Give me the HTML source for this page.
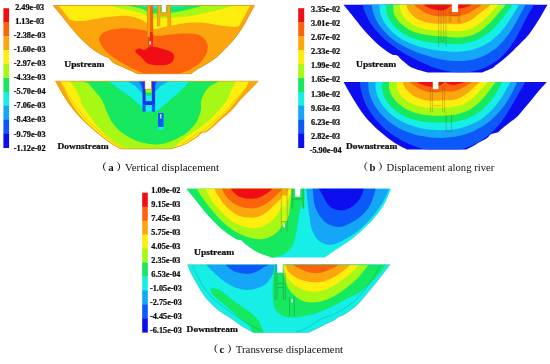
<!DOCTYPE html>
<html lang="en">
<head>
<meta charset="utf-8">
<title>Displacement contours</title>
<style>
html,body{margin:0;padding:0;background:#fff;}
body{width:550px;height:364px;overflow:hidden;}
svg{display:block;}
text{font-family:"Liberation Serif","Noto Serif CJK SC",serif;fill:#111;}
.lab{font-weight:bold;stroke:#111;stroke-width:0.25px;}
.lbl{font-weight:bold;stroke:#111;stroke-width:0.25px;}
.cap{font-weight:normal;}
.b{font-weight:bold;}
</style>
</head>
<body>
<svg width="550" height="364" viewBox="0 0 550 364">
<defs>
<filter id="soft" x="-2%" y="-2%" width="104%" height="104%"><feGaussianBlur stdDeviation="0.45"/></filter>
<clipPath id="cua"><path d="M53.2,5.5C54.5,7 58.4,11.6 60.9,14.7C63.4,17.8 65.5,20.5 68.2,23.8C70.9,27.1 74.3,31.4 77.3,34.7C80.3,38 83.4,41.1 86.4,43.8C89.4,46.5 92.6,49.1 95.5,51.1C98.4,53.1 101.8,54.8 104,55.9C106.2,57 107.1,56.6 108.6,57.7C110.1,58.8 110.9,61 113.2,62.5C115.5,64 119.3,65.4 122.3,66.8C125.3,68.2 128.8,69.8 131.4,70.9C134,72.1 136.6,73.2 137.7,73.7L191,73.7C192.2,72.8 195.5,70.3 198.2,68.6C200.9,66.9 204.3,65.3 207.3,63.4C210.3,61.5 213.7,59.4 216.4,57.2C219.1,55 220.9,52.9 223.6,50.2C226.3,47.5 229.6,44.4 232.4,41.1C235.2,37.8 238.3,33.5 240.6,30.2C242.9,26.9 244.3,24.1 246,21.1C247.7,18.1 249.4,14.6 250.8,12C252.2,9.4 254,6.6 254.6,5.5L166.4,5.5 L166.4,12.8 L161.3,12.8 L161.3,5.5 Z"/></clipPath>
<clipPath id="cda"><path d="M55.5,81.2C56,82 57.4,84.5 58.2,86C59,87.5 59.5,88.2 60.5,90C61.5,91.8 62.6,93.9 64.5,96.9C66.4,99.9 69.2,104.2 72,107.8C74.8,111.4 78.3,115.4 81.5,118.7C84.7,122 87.8,124.8 91.3,127.8C94.8,130.8 99,134.3 102.3,136.9C105.6,139.5 108.7,141.6 111.3,143.4C113.9,145.2 116.3,146.6 118,147.5C119.7,148.4 120.8,148.7 121.3,148.9L171.2,148.9C173.6,148.1 182.2,145.4 185.5,144C188.8,142.6 188.9,142 191,140.7C193.1,139.4 196.4,137.5 198.2,136.2C200,134.8 200.6,133.3 201.8,132.6C203,131.9 204.3,132.7 205.5,132.2C206.7,131.7 207.5,131 209,129.8C210.5,128.7 212.1,127.4 214.5,125.3C216.9,123.2 220.6,119.8 223.6,117.1C226.6,114.4 229.7,112.1 232.7,108.9C235.7,105.7 238.8,101.3 241.8,98C244.8,94.7 248.2,91.7 250.9,88.9C253.6,86.1 257,82.5 258.2,81.2L151.4,81.2 L151.4,89.2 L145,89.2 L145,81.2 Z"/></clipPath>
<clipPath id="cub"><path d="M343.6,4.7C344.8,6.2 348.5,10.8 350.9,13.8C353.3,16.8 355.5,19.6 358.2,22.9C360.9,26.2 364.3,30.5 367.3,33.8C370.3,37.1 373.4,40.2 376.4,42.9C379.4,45.6 382.8,48.2 385.5,50.2C388.2,52.2 390.7,53.8 392.7,54.7C394.7,55.6 395.9,54.8 397.3,55.6C398.7,56.4 399.6,58.1 401,59.3C402.4,60.5 403.6,61.5 405.5,63C407.4,64.5 408.9,66.4 412.7,68C416.4,69.6 425.4,71.8 428,72.6L481.8,72.6C483.6,71.8 490.4,69.2 492.7,68C495,66.8 493.5,67.2 495.5,65.6C497.5,64 501.5,61 504.5,58.4C507.5,55.8 510.6,53.1 513.6,50.2C516.6,47.3 520,44 522.7,41.1C525.4,38.2 527.6,36.1 530,32.9C532.4,29.7 535.2,25.3 537.3,22C539.4,18.7 541,15.8 542.7,12.9C544.4,10 546.7,6.1 547.5,4.7L458.2,4.7 L458.2,12 L451.8,12 L451.8,4.7 Z"/></clipPath>
<clipPath id="cdb"><path d="M343.6,82C344.7,84 347.9,89.9 350.2,93.8C352.5,97.7 354.9,101.7 357.3,105.4C359.7,109.1 362.3,112.9 364.5,115.8C366.7,118.7 368.3,120.3 370.5,122.6C372.7,124.9 374.8,127.2 377.5,129.6C380.2,132 383.2,134.4 386.5,136.9C389.8,139.4 394.1,142.4 397.5,144.5C400.9,146.6 405.2,148.6 406.8,149.4L466.4,149.4C467.6,148.8 471.5,146.9 473.6,145.8C475.7,144.7 476.9,143.8 479,142.6C481.1,141.4 484.4,140 486.4,138.6C488.4,137.2 489.5,135.2 491,134.3C492.5,133.4 494.2,133.5 495.5,133C496.8,132.5 497.5,132.5 499,131.4C500.5,130.3 502.7,128.1 504.5,126.6C506.3,125.1 507.9,123.9 510,122.3C512,120.7 514.4,119.3 516.8,117C519.2,114.7 521.7,111.4 524.2,108.4C526.7,105.4 529.4,102.3 532,99.2C534.6,96.1 537.5,92.5 540,89.6C542.5,86.7 545.7,83.3 546.8,82L438.8,82 L438.8,89.2 L432.5,89.2 L432.5,82 Z"/></clipPath>
<clipPath id="cuc"><path d="M186.6,188.7C187.8,190.2 191.5,194.8 193.9,197.8C196.3,200.8 198.5,203.6 201.2,206.9C203.9,210.2 207.3,214.5 210.3,217.8C213.3,221.1 216.4,224.2 219.4,226.9C222.4,229.6 225.5,232.1 228.5,234.2C231.5,236.3 235.4,238.6 237.5,239.6C239.6,240.6 239.8,239.4 241.2,240.2C242.6,241 243.9,242.8 245.7,244.2C247.5,245.6 250,247.4 252,248.7C254,250 254.2,250.5 257.5,252C260.8,253.5 269.6,256.7 272,257.6L324.5,257.6C326.2,256.4 331.4,252.6 335,250.2C338.6,247.8 342.5,245.7 346,243.2C349.5,240.7 353,238.1 356.2,235.4C359.4,232.7 362.2,230.1 365.2,227.2C368.2,224.3 371.5,221.3 374.3,218C377.1,214.7 380.1,210.8 382.2,207.6C384.3,204.3 385.5,201.7 387,198.5C388.5,195.3 390.3,190.3 391,188.7L300.5,188.7 L300.5,196.8 L294.8,196.8 L294.8,188.7 Z"/></clipPath>
<clipPath id="cdc"><path d="M187.7,264.7C188.2,266.1 189.6,270 191,272.9C192.4,275.8 194.1,278.7 196,282C197.9,285.3 200.1,289.6 202.4,292.9C204.7,296.2 206.8,299 209.6,302C212.4,305 216.1,308.4 219.5,311C222.9,313.6 226.7,315.4 230.3,317.8C233.9,320.2 238.2,323.6 241,325.5C243.8,327.4 244.9,327.8 247,329C249.1,330.2 252.5,332 253.6,332.6L308.4,332.6C310,331.8 315.6,329.3 318.2,328C320.8,326.7 321.4,326 324,324.7C326.6,323.4 331.6,321.5 334,320.2C336.4,318.9 337,317.7 338.3,316.9C339.6,316.1 340.4,316.4 342,315.6C343.6,314.8 345.4,313.8 348,312C350.6,310.2 354.4,307.4 357.3,304.7C360.2,302 362.6,298.8 365.3,295.6C368,292.4 370.9,289.1 373.7,285.6C376.5,282.1 379.5,278.2 382.2,274.7C384.9,271.2 388.7,266.4 390,264.7L283,264.7 L283,273 L277,273 L277,264.7 Z"/></clipPath>
</defs>
<rect x="0" y="0" width="550" height="364" fill="#ffffff"/>
<g filter="url(#soft)">
<g clip-path="url(#cua)">
<rect x="40" y="0" width="230" height="80" fill="#fca60e"/>
<path d="M50,12C51.2,12.4 54.7,13.7 57,14.5C59.3,15.3 61.1,15.9 63.6,16.8C66.1,17.8 68.6,19.5 71.8,20.2C75,20.9 79.1,21.2 82.7,21.1C86.3,21 90,19.9 93.6,19.3C97.2,18.7 99.7,18.1 104.5,17.5C109.3,16.9 117.9,15.9 122.7,15.8C127.5,15.7 130,16.1 133.6,17C137.2,17.9 141.9,20.1 144.5,21.5C147.1,22.9 147.6,24.4 149,25.6C150.4,26.9 150.6,28.7 153,29C155.4,29.3 160.7,27.8 163.7,27.2C166.7,26.6 167.1,26.3 171,25.6C174.9,24.9 181.6,23.3 187.3,22.9C193.1,22.4 200.1,22.4 205.5,22.9C210.9,23.3 215.5,25 220,25.6C224.5,26.2 229.4,26.7 232.7,26.8C236,26.9 238.2,26.6 240,26C241.8,25.4 242.4,25 243.6,23.3C244.8,21.6 245.8,19.2 247,16C248.2,12.8 249.9,6 250.5,4L250.5,0 L50,0 Z" fill="#fdee10"/>
<path d="M107,4C108,4.4 110.4,5.5 113,6.3C115.6,7.1 119.3,8.1 122.7,8.9C126.1,9.7 130,10.1 133.6,11.1C137.2,12.1 141.9,13.6 144.5,14.7C147.1,15.8 147.2,16.9 149,17.5C150.8,18.1 151.5,18.4 155,18.5C158.5,18.6 164.2,18.4 170,18C175.8,17.6 185,16.7 190,16C195,15.3 196.3,14.8 200,14C203.7,13.2 207.7,12.5 212,11.5C216.3,10.5 221.3,9.2 226,8C230.7,6.8 237.7,4.7 240,4L240,0 L107,0 Z" fill="#a8f812"/>
<path d="M124,4C125.3,4.4 129.2,5.8 132,6.5C134.8,7.2 138.1,7.5 140.9,8.4C143.7,9.3 146.7,11.2 149,12C151.3,12.8 151.5,13.3 155,13.5C158.5,13.7 165,13.5 170,13C175,12.5 180.5,11.2 185,10.3C189.5,9.4 193.3,8.3 197,7.3C200.7,6.2 205.3,4.5 207,4L207,0 L124,0 Z" fill="#12e85e"/>
<path d="M136,4C136.8,4.4 139.3,5.7 141,6.2C142.7,6.8 144,6.9 146,7.3C148,7.7 150.7,8.2 153,8.3C155.3,8.4 156.8,8.2 160,8C163.2,7.8 168.2,7.5 172,7.3C175.8,7.1 179.7,7.3 183,6.8C186.3,6.2 190.5,4.5 192,4L192,0 L136,0 Z" fill="#12eee6"/>
<path d="M99,39.5C99,38.2 99.6,36.8 100.5,35.5C101.4,34.2 102.3,33 104.5,32C106.7,31 109.9,29.9 113.6,29.3C117.2,28.7 121.8,28.1 126.4,28.2C131,28.3 137.4,29.2 141,29.8C144.6,30.4 146,30.6 148,31.5C150,32.4 151,34.3 153,35C155,35.7 155.8,36 160,35.8C164.2,35.6 172.8,34.1 178.2,33.8C183.6,33.5 188.8,33.3 192.7,33.8C196.6,34.2 199.4,34.8 201.8,36.5C204.2,38.2 206.4,41.2 207.3,43.8C208.2,46.4 207.8,49.2 207,52C206.2,54.8 204.3,58 202.3,60.5C200.3,63 197.7,65.2 195,67C192.3,68.8 189.8,69.9 186,71.2C182.2,72.5 178,74.3 172,75C166,75.7 155.2,76 150,75.5C144.8,75 143.6,73.5 140.5,72.3C137.4,71 134.4,69.5 131.4,68C128.4,66.5 125.3,64.8 122.3,63C119.3,61.2 115.8,59.3 113.2,57.5C110.6,55.7 108.5,54 106.8,52.3C105.1,50.6 104.1,49 103,47.5C101.9,46 101,44.3 100.3,43C99.6,41.7 99,40.8 99,39.5Z" fill="#fd640a"/>
<path d="M135.3,51C135.6,50.1 137.5,48.6 139,48.4C140.5,48.2 143,50.1 144.5,50C146,49.9 146.8,48.1 148,47.5C149.2,46.9 150,46.5 152,46.6C154,46.7 157.4,47.6 160,48.2C162.6,48.8 165.2,49.4 167.3,50.2C169.4,51 171.6,51.8 172.7,53C173.8,54.2 174.3,55.8 174,57.5C173.7,59.2 172.7,61.7 171,63C169.3,64.3 166.4,64.9 163.6,65.2C160.8,65.5 156.7,65.3 154,65C151.3,64.7 149.1,64.1 147.5,63.4C145.9,62.7 145.6,62.1 144.5,61C143.4,59.9 142.2,58 141,56.8C139.8,55.6 138.2,55 137.3,54C136.4,53 135,51.9 135.3,51Z" fill="#f01012"/>
<rect x="147.2" y="5" width="5.8" height="42" fill="#fca60e"/>
<rect x="149.9" y="5" width="3.1" height="28" fill="#fd640a"/>
<rect x="149.9" y="32" width="3.1" height="15" fill="#f22412"/>
<rect x="147.2" y="37" width="2.7" height="10" fill="#f8440e"/>
<rect x="147.2" y="5" width="0.6" height="42" fill="#cf7f1c"/>
<rect x="152.5" y="5" width="0.6" height="30" fill="#d8661a"/>
<rect x="149.3" y="41.3" width="1.8" height="3.2" fill="#f4f1e6"/>
<rect x="157.3" y="5" width="3" height="21.2" fill="#fca60e"/>
<rect x="167.3" y="5" width="3.3" height="21.2" fill="#fca60e"/>
<rect x="160" y="13.8" width="8" height="2.6" fill="#fca60e"/>
<rect x="157.2" y="5" width="0.5" height="21.2" fill="#c9821c"/>
<rect x="170.2" y="5" width="0.5" height="21.2" fill="#c9821c"/>
<path d="M58.6,5.5C59.8,7 63.7,11.6 66,14.7C68.4,17.8 70.2,20.5 72.6,23.8C75,27.1 77.8,31.4 80.5,34.7C83.2,38 86.1,41.1 89,43.8C91.9,46.5 95.1,49.1 98,51.1C100.9,53.1 104.3,54.8 106.5,55.9C108.7,57 109.6,56.6 111.1,57.7C112.6,58.8 113.4,61 115.7,62.5C118,64 121.8,65.4 124.8,66.8C127.8,68.2 131.3,69.8 133.9,70.9C136.5,72.1 139.1,73.2 140.2,73.7L134.7,73.7 L128.4,70.9 L119.3,66.8 L110.2,62.5 L105.6,57.7 L101,55.9 L92.5,51.1 L83.4,43.8 L74.3,34.7 L65.2,23.8 L57.9,14.7 L50.2,5.5Z" fill="#fca60e"/>
<path d="M191,73.7C192.2,72.8 195.5,70.3 198.2,68.6C200.9,66.9 204.3,65.3 207.3,63.4C210.3,61.5 213.7,59.4 216.4,57.2C219.1,55 220.9,52.9 223.6,50.2C226.3,47.5 229.6,44.4 232.4,41.1C235.2,37.8 238.3,33.5 240.6,30.2C242.9,26.9 244.3,24.1 246,21.1C247.7,18.1 249.4,14.6 250.8,12C252.2,9.4 254,6.6 254.6,5.5" fill="none" stroke="#fca60e" stroke-width="7.4"/>
</g>
<path d="M53.2,5.5C54.5,7 58.4,11.6 60.9,14.7C63.4,17.8 65.5,20.5 68.2,23.8C70.9,27.1 74.3,31.4 77.3,34.7C80.3,38 83.4,41.1 86.4,43.8C89.4,46.5 92.6,49.1 95.5,51.1C98.4,53.1 101.8,54.8 104,55.9C106.2,57 107.1,56.6 108.6,57.7C110.1,58.8 110.9,61 113.2,62.5C115.5,64 119.3,65.4 122.3,66.8C125.3,68.2 128.8,69.8 131.4,70.9C134,72.1 136.6,73.2 137.7,73.7L191,73.7C192.2,72.8 195.5,70.3 198.2,68.6C200.9,66.9 204.3,65.3 207.3,63.4C210.3,61.5 213.7,59.4 216.4,57.2C219.1,55 220.9,52.9 223.6,50.2C226.3,47.5 229.6,44.4 232.4,41.1C235.2,37.8 238.3,33.5 240.6,30.2C242.9,26.9 244.3,24.1 246,21.1C247.7,18.1 249.4,14.6 250.8,12C252.2,9.4 254,6.6 254.6,5.5L166.4,5.5 L166.4,12.8 L161.3,12.8 L161.3,5.5 Z" fill="none" stroke="#d88c1c" stroke-width="0.7"/>
<g clip-path="url(#cda)">
<rect x="40" y="75" width="230" height="80" fill="#fdee10"/>
<path d="M71.5,79C67.3,82 73.6,84.8 75,88C76.4,91.2 78.9,95.3 80,98C81.1,100.7 80.5,101.6 81.8,104.2C83.1,106.8 85.9,110.5 88,113.5C90.1,116.5 92,119.3 94.5,122.4C97,125.5 100,129 103,132C106,135 109.7,138.2 112.7,140.5C115.7,142.8 118.1,144.1 121,145.6C123.9,147.1 125.2,148.6 130,149.5C134.8,150.4 143.3,151 150,151C156.7,151 165.3,150.8 170,149.5C174.7,148.2 175.9,145.2 178.2,143.4C180.5,141.7 181.5,140.7 183.6,139C185.7,137.3 188.6,135.2 191,133.5C193.4,131.8 195.8,130.7 198.2,129C200.6,127.3 203.1,125.5 205.5,123.5C207.9,121.5 210.3,119.5 212.7,117.1C215.1,114.7 217.6,111.8 220,108.9C222.4,106 225.5,102.8 227.3,99.8C229.1,96.8 229.9,94.2 231,90.7C232.1,87.2 238.8,82.5 233.6,79C228.4,75.5 222.3,71.5 200,70C177.7,68.5 121.4,68.5 100,70C78.6,71.5 75.7,76 71.5,79Z" fill="#a8f812"/>
<path d="M84.5,79C79.3,81.7 87.4,82.2 89,84C90.6,85.8 92,87.6 94,90C96,92.4 99.3,96.1 101,98.5C102.7,100.9 103.1,102.5 104,104.5C104.9,106.5 105.4,108.7 106.2,110.5C107,112.3 107.7,113.7 108.6,115.5C109.5,117.3 110.2,119.4 111.6,121.5C112.9,123.6 114.6,125.8 116.7,127.9C118.8,130 121.4,132.3 124.4,134.3C127.4,136.3 130.7,138.4 134.5,140C138.3,141.6 143.7,142.9 147.3,143.6C150.9,144.3 153.1,144.5 156,144.4C158.9,144.3 161.5,144.2 165,143.2C168.5,142.2 173.5,140.3 177.2,138.5C180.9,136.7 183.9,135.1 187,132.6C190.1,130.1 193.5,126.2 195.5,123.5C197.5,120.8 198.1,118.6 199,116.2C199.9,113.8 200.7,111.3 201,108.9C201.3,106.5 200.6,104 201,101.6C201.4,99.2 202.3,96.8 203.6,94.4C204.9,92 206.6,89.6 209,87C211.4,84.4 221.4,82.2 218.2,79C215,75.8 206.4,69.8 190,68C173.6,66.2 137.6,66.2 120,68C102.4,69.8 89.7,76.3 84.5,79Z" fill="#12e85e"/>
<path d="M105,79 L113,84.5 L120,89.8 L130.5,97 L141,106.5 L144.5,111 L157,111 L168,102 L176.5,94.5 L184.5,87 L192,79Z" fill="#12eee6"/>
<path d="M124,79 L135.5,86 L142.7,93.5 L155.5,91.5 L160,86.2 L172,79Z" fill="#12a6f8"/>
<path d="M136,79 L140,83 L143,89 L154.5,86.5 L158,79Z" fill="#1058f8"/>
<rect x="145" y="89.1" width="6.6" height="4" fill="#a8f812"/>
<rect x="145" y="92.6" width="6.6" height="3.5" fill="#12e85e"/>
<rect x="145" y="95.6" width="6.6" height="16" fill="#12eee6"/>
<rect x="142.5" y="81" width="3.1" height="23" fill="#1a35e0"/>
<rect x="142.5" y="104" width="3.1" height="7.6" fill="#1058f8"/>
<rect x="151.9" y="81" width="3.2" height="23" fill="#1a35e0"/>
<rect x="151.9" y="104" width="3.2" height="7.6" fill="#1058f8"/>
<rect x="145" y="101.2" width="7.5" height="3.8" fill="#1a35e0"/>
<rect x="158" y="113" width="5.5" height="14.3" fill="#1058f8"/>
<rect x="158" y="127" width="5.5" height="2.8" fill="#12eee6"/>
<rect x="160.1" y="114" width="1.4" height="4.5" fill="#bfe8f0"/>
<path d="M60.7,81.2C61.1,82 62.2,84.5 62.9,86C63.6,87.5 64,88.2 64.9,90C65.7,91.8 66.6,93.9 68.2,96.9C69.8,99.9 72.1,104.2 74.6,107.8C77.1,111.4 80.2,115.4 83.1,118.7C86.1,122 89.1,124.8 92.4,127.8C95.8,130.8 99.9,134.3 103.2,136.9C106.5,139.5 109.6,141.6 112.2,143.4C114.8,145.2 117.2,146.6 118.8,147.5C120.5,148.4 121.6,148.7 122.1,148.9L118.3,148.9 L115,147.5 L108.3,143.4 L99.3,136.9 L88.3,127.8 L78.5,118.7 L69,107.8 L61.5,96.9 L57.5,90 L55.2,86 L52.5,81.2Z" fill="#fca60e"/>
<path d="M248.8,81.2C248.2,82.5 247.2,86.1 245.4,88.9C243.6,91.7 240.6,94.7 238,98C235.4,101.3 232.3,105.7 229.5,108.9C226.6,112.1 223.6,114.4 220.8,117.1C218,119.8 214.8,123.2 212.6,125.3C210.4,127.4 208.9,128.7 207.4,129.8C206,131 205.2,131.7 204,132.2C202.8,132.7 201.5,131.9 200.3,132.6C199.1,133.3 198.6,134.8 196.8,136.2C195.1,137.5 191.8,139.4 189.7,140.7C187.7,142 187.6,142.6 184.3,144C181.1,145.4 172.5,148.1 170.2,148.9L174.2,148.9 L188.5,144 L194,140.7 L201.2,136.2 L204.8,132.6 L208.5,132.2 L212,129.8 L217.5,125.3 L226.6,117.1 L235.7,108.9 L244.8,98 L253.9,88.9 L261.2,81.2Z" fill="#fca60e"/>
<path d="M63.3,86C63.7,86.7 64.5,88.2 65.5,90C66.5,91.8 67.5,93.9 69.4,96.9C71.2,99.9 73.9,104.2 76.7,107.8C79.4,111.4 82.8,115.4 85.9,118.7C89.1,122 92.2,124.8 95.6,127.8C99,130.8 103.1,134.3 106.4,136.9C109.7,139.5 112.7,141.6 115.3,143.4C117.8,145.2 120.2,146.6 121.9,147.5C123.5,148.4 124.6,148.7 125.1,148.9" fill="none" stroke="#a87818" stroke-width="0.5" stroke-opacity="0.55"/>
<path d="M181.2,144C182.1,143.4 184.5,142 186.6,140.7C188.7,139.4 191.9,137.5 193.7,136.2C195.5,134.8 196,133.3 197.2,132.6C198.4,131.9 199.7,132.7 200.9,132.2C202.1,131.7 202.9,131 204.4,129.8C205.9,128.7 207.4,127.4 209.8,125.3C212.2,123.2 215.7,119.8 218.7,117.1C221.7,114.4 224.7,112.1 227.7,108.9C230.6,105.7 233.6,101.3 236.5,98C239.5,94.7 244,90.4 245.5,88.9" fill="none" stroke="#a87818" stroke-width="0.5" stroke-opacity="0.55"/>
</g>
<path d="M55.5,81.2C56,82 57.4,84.5 58.2,86C59,87.5 59.5,88.2 60.5,90C61.5,91.8 62.6,93.9 64.5,96.9C66.4,99.9 69.2,104.2 72,107.8C74.8,111.4 78.3,115.4 81.5,118.7C84.7,122 87.8,124.8 91.3,127.8C94.8,130.8 99,134.3 102.3,136.9C105.6,139.5 108.7,141.6 111.3,143.4C113.9,145.2 116.3,146.6 118,147.5C119.7,148.4 120.8,148.7 121.3,148.9L171.2,148.9C173.6,148.1 182.2,145.4 185.5,144C188.8,142.6 188.9,142 191,140.7C193.1,139.4 196.4,137.5 198.2,136.2C200,134.8 200.6,133.3 201.8,132.6C203,131.9 204.3,132.7 205.5,132.2C206.7,131.7 207.5,131 209,129.8C210.5,128.7 212.1,127.4 214.5,125.3C216.9,123.2 220.6,119.8 223.6,117.1C226.6,114.4 229.7,112.1 232.7,108.9C235.7,105.7 238.8,101.3 241.8,98C244.8,94.7 248.2,91.7 250.9,88.9C253.6,86.1 257,82.5 258.2,81.2L151.4,81.2 L151.4,89.2 L145,89.2 L145,81.2 Z" fill="none" stroke="#e09a1c" stroke-width="0.7"/>
<rect x="3.4" y="8.2" width="5.7" height="14.2" fill="#f01012"/>
<rect x="3.4" y="22.1" width="5.7" height="14.2" fill="#fd640a"/>
<rect x="3.4" y="36.1" width="5.7" height="14.2" fill="#fca60e"/>
<rect x="3.4" y="50" width="5.7" height="14.2" fill="#fdee10"/>
<rect x="3.4" y="64" width="5.7" height="14.2" fill="#a8f812"/>
<rect x="3.4" y="78" width="5.7" height="14.2" fill="#12e85e"/>
<rect x="3.4" y="91.9" width="5.7" height="14.2" fill="#12eee6"/>
<rect x="3.4" y="105.8" width="5.7" height="14.2" fill="#12a6f8"/>
<rect x="3.4" y="119.8" width="5.7" height="14.2" fill="#1058f8"/>
<rect x="3.4" y="133.8" width="5.7" height="14.2" fill="#080eee"/>
<text transform="translate(29.7,9.6) scale(1.1,1)" class="lab" font-size="7.5" text-anchor="middle">2.49e-03</text>
<text transform="translate(29.7,23.7) scale(1.1,1)" class="lab" font-size="7.5" text-anchor="middle">1.13e-03</text>
<text transform="translate(29.7,37.8) scale(1.1,1)" class="lab" font-size="7.5" text-anchor="middle">-2.38e-03</text>
<text transform="translate(29.7,51.9) scale(1.1,1)" class="lab" font-size="7.5" text-anchor="middle">-1.60e-03</text>
<text transform="translate(29.7,66) scale(1.1,1)" class="lab" font-size="7.5" text-anchor="middle">-2.97e-03</text>
<text transform="translate(29.7,80.1) scale(1.1,1)" class="lab" font-size="7.5" text-anchor="middle">-4.33e-03</text>
<text transform="translate(29.7,94.2) scale(1.1,1)" class="lab" font-size="7.5" text-anchor="middle">-5.70e-04</text>
<text transform="translate(29.7,108.3) scale(1.1,1)" class="lab" font-size="7.5" text-anchor="middle">-7.06e-03</text>
<text transform="translate(29.7,122.4) scale(1.1,1)" class="lab" font-size="7.5" text-anchor="middle">-8.43e-03</text>
<text transform="translate(29.7,136.5) scale(1.1,1)" class="lab" font-size="7.5" text-anchor="middle">-9.79e-03</text>
<text transform="translate(29.7,150.6) scale(1.1,1)" class="lab" font-size="7.5" text-anchor="middle">-1.12e-02</text>
<g clip-path="url(#cub)">
<rect x="335" y="0" width="220" height="80" fill="#080eee"/>
<path d="M362.6,-3C362.6,-1.7 362.1,1.8 362.6,4.7C363.2,7.6 364.5,11.5 365.9,14.6C367.3,17.8 369,20.9 370.9,23.7C372.7,26.5 374.8,29.2 377,31.6C379.1,34.1 381.4,36.4 383.7,38.5C386,40.6 388.4,42.5 390.8,44.3C393.1,46.1 395.5,47.8 397.8,49.3C400.2,50.9 402.5,52.3 404.8,53.7C407.1,55 409.4,56.3 411.7,57.5C414,58.7 416.2,59.9 418.5,61C420.8,62.1 423.1,63.1 425.4,64.1C427.7,65.1 430,66.1 432.4,66.9C434.7,67.8 437.1,68.6 439.6,69.3C442.1,70 444.6,70.6 447.1,71.1C449.7,71.6 452.3,72 454.9,72.2C457.6,72.5 460.3,72.6 462.9,72.5C465.6,72.4 468.4,72.1 471.1,71.7C473.7,71.2 476.4,70.6 479.1,69.8C481.7,69 484.3,67.9 486.8,66.7C489.3,65.5 491.8,64.1 494.1,62.6C496.4,61 498.6,59.3 500.7,57.4C502.8,55.5 504.8,53.5 506.6,51.4C508.5,49.3 510.2,47 511.8,44.7C513.4,42.4 514.8,39.9 516.3,37.5C517.7,35 519,32.5 520.3,29.9C521.7,27.4 522.9,24.8 524.3,22.1C525.7,19.4 527,16.7 528.6,13.8C530.1,10.9 532.8,7.5 533.7,4.7C534.5,1.9 533.7,-1.7 533.7,-3Z" fill="#1058f8"/>
<path d="M371.7,-3C371.7,-1.7 371.4,1.9 371.7,4.7C372,7.5 372.6,10.8 373.5,13.8C374.4,16.7 375.8,19.5 377.3,22.2C378.8,24.8 380.6,27.3 382.6,29.6C384.5,31.9 386.6,34 388.8,36C390.9,37.9 393.2,39.6 395.4,41.2C397.7,42.8 400,44.2 402.3,45.5C404.6,46.8 406.9,48 409.2,49C411.4,50.1 413.7,51 415.9,51.9C418.1,52.8 420.2,53.6 422.4,54.3C424.5,55 426.6,55.7 428.7,56.3C430.8,56.9 432.9,57.5 435,58C437.1,58.5 439.2,59 441.3,59.4C443.5,59.8 445.6,60.2 447.8,60.5C449.9,60.8 452.1,61 454.3,61.1C456.5,61.2 458.7,61.2 461,61.1C463.2,61.1 465.5,60.9 467.7,60.5C470,60.2 472.2,59.8 474.5,59.2C476.7,58.6 479,57.8 481.2,56.9C483.3,56.1 485.5,55 487.6,53.9C489.7,52.7 491.7,51.4 493.7,49.9C495.6,48.5 497.5,46.9 499.3,45.2C501.1,43.5 502.8,41.7 504.4,39.8C506,37.9 507.5,35.9 509,33.8C510.4,31.7 511.8,29.6 513.2,27.3C514.5,25.1 515.8,22.8 517.1,20.4C518.4,18 519.7,15.5 521,12.9C522.4,10.3 524.6,7.3 525.3,4.7C526,2.1 525.3,-1.7 525.3,-3Z" fill="#12a6f8"/>
<path d="M379.4,-3C379.4,-1.7 379.3,2 379.4,4.7C379.6,7.4 379.6,10.3 380.2,13C380.9,15.6 382,18.3 383.3,20.8C384.6,23.2 386.2,25.5 388,27.6C389.7,29.8 391.7,31.7 393.7,33.5C395.8,35.2 398,36.8 400.1,38.2C402.3,39.6 404.5,40.8 406.8,41.8C409,42.9 411.2,43.8 413.3,44.6C415.5,45.4 417.7,46.1 419.7,46.7C421.8,47.3 423.9,47.8 425.9,48.2C427.9,48.7 429.8,49.1 431.7,49.4C433.6,49.8 435.5,50.1 437.3,50.4C439.2,50.6 441,50.9 442.8,51.1C444.6,51.3 446.4,51.4 448.3,51.6C450.1,51.7 451.9,51.8 453.7,51.8C455.6,51.9 457.4,51.9 459.3,51.8C461.2,51.7 463.1,51.5 464.9,51.3C466.8,51 468.7,50.7 470.6,50.3C472.6,49.8 474.5,49.3 476.4,48.6C478.3,48 480.1,47.2 482,46.3C483.8,45.4 485.7,44.5 487.5,43.3C489.2,42.2 491,41 492.7,39.7C494.3,38.3 496,36.9 497.6,35.3C499.1,33.8 500.7,32.1 502.1,30.4C503.6,28.6 505,26.8 506.4,24.9C507.8,22.9 509.2,20.9 510.5,18.8C511.9,16.7 513.2,14.5 514.6,12.1C516,9.8 518.1,7.2 518.8,4.7C519.6,2.2 518.8,-1.7 518.8,-3Z" fill="#12eee6"/>
<path d="M386.2,-3C386.2,-1.7 386.1,2.2 386.2,4.7C386.2,7.2 386.1,9.8 386.6,12.2C387.2,14.7 388.2,17.1 389.4,19.3C390.6,21.5 392.2,23.6 393.8,25.5C395.5,27.4 397.4,29.1 399.3,30.6C401.3,32.2 403.4,33.5 405.5,34.7C407.5,35.8 409.7,36.8 411.7,37.6C413.8,38.5 415.9,39.2 417.9,39.8C419.9,40.3 421.9,40.8 423.8,41.2C425.7,41.6 427.6,41.9 429.4,42.1C431.2,42.4 432.9,42.6 434.6,42.8C436.3,43 437.9,43.1 439.5,43.2C441.1,43.4 442.6,43.5 444.1,43.6C445.7,43.7 447.2,43.8 448.7,43.8C450.2,43.9 451.8,43.9 453.3,44C454.8,44 456.4,43.9 457.9,43.9C459.5,43.8 461,43.7 462.6,43.5C464.2,43.3 465.8,43.1 467.4,42.8C469,42.4 470.6,42 472.3,41.5C473.9,41 475.5,40.4 477.1,39.8C478.7,39.1 480.3,38.3 481.8,37.4C483.4,36.5 484.9,35.5 486.4,34.4C487.9,33.4 489.4,32.2 490.9,30.9C492.3,29.6 493.7,28.3 495.1,26.8C496.5,25.4 497.8,23.9 499.2,22.2C500.5,20.6 501.9,18.9 503.3,17.1C504.6,15.3 506,13.4 507.5,11.3C508.9,9.2 511.3,7.1 512,4.7C512.8,2.3 512,-1.7 512,-3Z" fill="#12e85e"/>
<path d="M393.3,-3C393.3,-1.7 393.2,2.3 393.3,4.7C393.3,7.1 393,9.3 393.5,11.4C393.9,13.6 394.9,15.8 396,17.7C397.2,19.7 398.7,21.5 400.3,23.1C401.9,24.8 403.8,26.2 405.6,27.5C407.5,28.7 409.5,29.8 411.5,30.7C413.4,31.6 415.4,32.3 417.4,32.9C419.3,33.5 421.2,34 423,34.3C424.9,34.7 426.6,35 428.3,35.2C430,35.4 431.6,35.5 433.1,35.7C434.6,35.8 436.1,35.9 437.5,36C438.9,36.1 440.2,36.2 441.5,36.3C442.9,36.4 444.1,36.5 445.4,36.6C446.6,36.7 447.9,36.8 449.1,36.9C450.4,37 451.6,37.2 452.9,37.2C454.2,37.3 455.5,37.4 456.8,37.4C458.1,37.4 459.4,37.4 460.8,37.4C462.1,37.3 463.5,37.2 464.9,37C466.3,36.8 467.7,36.5 469.1,36.1C470.5,35.7 472,35.3 473.3,34.7C474.7,34.2 476.1,33.5 477.5,32.8C478.8,32 480.2,31.2 481.5,30.3C482.8,29.4 484.1,28.4 485.3,27.3C486.6,26.2 487.8,25 489,23.8C490.2,22.6 491.4,21.3 492.7,19.9C493.9,18.5 495.1,17 496.5,15.5C497.8,13.9 499.1,12.3 500.6,10.5C502.1,8.7 504.6,6.9 505.4,4.7C506.2,2.5 505.4,-1.7 505.4,-3Z" fill="#a8f812"/>
<path d="M399.7,-3C399.7,-1.7 399.5,2.4 399.7,4.7C399.8,7 399.9,8.7 400.5,10.6C401.1,12.5 402.1,14.3 403.3,16C404.4,17.7 405.8,19.2 407.3,20.6C408.8,22 410.5,23.2 412.2,24.2C413.8,25.3 415.6,26.1 417.3,26.8C419.1,27.6 420.8,28.1 422.5,28.6C424.2,29.1 425.9,29.4 427.4,29.7C429,29.9 430.5,30.1 432,30.2C433.4,30.4 434.8,30.4 436.1,30.5C437.4,30.6 438.6,30.6 439.8,30.6C441,30.6 442.1,30.7 443.2,30.7C444.3,30.7 445.4,30.8 446.4,30.8C447.4,30.9 448.4,30.9 449.5,31C450.5,31 451.5,31.1 452.5,31.1C453.6,31.2 454.6,31.2 455.7,31.3C456.7,31.3 457.8,31.3 458.9,31.2C460,31.1 461.2,31.1 462.3,30.9C463.4,30.7 464.6,30.5 465.8,30.3C466.9,30 468.1,29.6 469.3,29.2C470.4,28.8 471.6,28.3 472.7,27.7C473.9,27.2 475,26.5 476.2,25.8C477.3,25.1 478.4,24.3 479.5,23.5C480.6,22.6 481.7,21.7 482.9,20.7C484,19.7 485.1,18.6 486.2,17.5C487.3,16.4 488.5,15.2 489.7,13.9C490.9,12.6 492.2,11.2 493.6,9.7C495,8.1 497.3,6.8 498,4.7C498.7,2.6 498,-1.7 498,-3Z" fill="#fdee10"/>
<path d="M406.4,-3C406.4,-1.7 406.1,2.6 406.4,4.7C406.7,6.8 407.3,8.1 408.2,9.7C409,11.3 410.1,12.8 411.3,14.1C412.5,15.4 414,16.6 415.4,17.7C416.8,18.7 418.4,19.6 420,20.3C421.5,21 423.1,21.6 424.6,22.1C426.1,22.5 427.6,22.9 429,23.1C430.5,23.4 431.8,23.5 433.1,23.6C434.4,23.7 435.6,23.8 436.8,23.8C437.9,23.8 439,23.8 440,23.7C441,23.7 441.9,23.7 442.8,23.7C443.7,23.6 444.5,23.6 445.3,23.6C446.1,23.6 446.9,23.6 447.7,23.7C448.4,23.7 449.1,23.8 449.9,23.8C450.6,23.9 451.4,23.9 452.1,24C452.9,24.1 453.6,24.1 454.4,24.2C455.2,24.2 456,24.2 456.8,24.2C457.7,24.2 458.5,24.2 459.4,24.1C460.2,24 461.1,23.8 461.9,23.7C462.8,23.5 463.7,23.2 464.6,23C465.5,22.7 466.4,22.3 467.2,21.9C468.1,21.5 469,21.1 469.9,20.6C470.8,20 471.7,19.5 472.6,18.9C473.5,18.3 474.3,17.6 475.3,16.9C476.2,16.2 477.2,15.4 478.2,14.6C479.3,13.8 480.3,12.9 481.5,11.9C482.7,10.9 483.9,9.9 485.4,8.7C486.8,7.5 489.2,6.7 490,4.7C490.8,2.7 490,-1.7 490,-3Z" fill="#fca60e"/>
<path d="M414.5,-3C414.5,-1.7 413.8,2.8 414.5,4.7C415.2,6.6 417.2,7.4 418.6,8.5C420,9.6 421.5,10.5 422.8,11.4C424.2,12.2 425.6,12.9 426.9,13.5C428.3,14 429.6,14.5 430.8,14.9C432,15.2 433.2,15.5 434.3,15.7C435.4,15.9 436.4,16 437.4,16.1C438.3,16.2 439.2,16.3 440.1,16.3C440.9,16.3 441.7,16.3 442.4,16.3C443.1,16.3 443.7,16.2 444.4,16.2C445,16.2 445.5,16.1 446.1,16.1C446.6,16.1 447.1,16.1 447.6,16.1C448.1,16.1 448.5,16.1 449,16.1C449.4,16.1 449.9,16.1 450.3,16.1C450.8,16.2 451.2,16.2 451.7,16.2C452.1,16.3 452.6,16.3 453.1,16.3C453.5,16.4 454,16.4 454.5,16.4C455,16.4 455.5,16.4 456,16.4C456.6,16.4 457.1,16.3 457.7,16.3C458.2,16.2 458.8,16.1 459.4,16C460,15.9 460.7,15.8 461.3,15.6C462,15.5 462.6,15.3 463.3,15.1C464.1,14.8 464.8,14.6 465.6,14.3C466.3,14 467.1,13.6 468,13.2C468.9,12.8 469.8,12.4 470.8,11.9C471.7,11.4 472.8,10.8 473.9,10.1C475,9.4 476.2,8.7 477.4,7.8C478.7,6.9 480.8,6.5 481.5,4.7C482.2,2.9 481.5,-1.7 481.5,-3Z" fill="#fd640a"/>
<path d="M424.1,-3C424.1,-1.7 423.4,3 424.1,4.7C424.8,6.4 426.9,6.6 428.3,7.4C429.6,8.1 431,8.7 432.3,9.1C433.6,9.6 434.9,9.9 436.1,10.1C437.3,10.3 438.5,10.4 439.6,10.4C440.7,10.4 441.7,10.3 442.7,10.2C443.6,10 444.5,9.8 445.2,9.5C446,9.3 446.7,8.9 447.3,8.6C448,8.2 448.5,7.8 448.9,7.5C449.4,7.1 449.8,6.7 450.1,6.3C450.4,5.9 450.6,5.5 450.8,5.2C451,4.9 451.1,4.5 451.1,4.2C451.2,4 451.2,3.7 451.2,3.5C451.2,3.3 451.2,3.1 451.1,3C451,2.9 451,2.9 450.9,2.8C450.8,2.8 450.7,2.9 450.7,2.9C450.6,3 450.6,3.2 450.6,3.3C450.6,3.5 450.6,3.7 450.7,4C450.8,4.2 450.9,4.5 451,4.8C451.2,5.1 451.4,5.4 451.7,5.7C452,6 452.4,6.3 452.8,6.6C453.2,6.9 453.7,7.2 454.3,7.5C454.9,7.7 455.5,8 456.2,8.1C456.9,8.3 457.7,8.4 458.5,8.5C459.3,8.5 460.2,8.5 461.1,8.4C462.1,8.3 463.1,8.1 464.1,7.8C465.1,7.5 466.2,7.1 467.2,6.6C468.3,6.1 469.9,6.3 470.5,4.7C471,3.1 470.5,-1.7 470.5,-3Z" fill="#f01012"/>
<path d="M438.6,4.6V46.5M441,4.6V41.5h2.6V4.6M446,4.6V46.5M449.2,9v14M459.8,9v14M451,9v13M458,9v13M451,15.5h7" fill="none" stroke="#5a3a20" stroke-width="0.5" stroke-opacity="0.5"/>
</g>
<g clip-path="url(#cdb)">
<rect x="335" y="76" width="220" height="80" fill="#080eee"/>
<path d="M359.9,74C359.9,75.3 359.7,78.8 359.9,81.7C360.1,84.6 360.5,88.3 361.2,91.5C361.9,94.7 363,97.8 364.2,100.8C365.5,103.8 367,106.8 368.6,109.5C370.2,112.3 372.1,114.9 374,117.4C375.9,119.8 378,122.1 380.2,124.3C382.3,126.5 384.6,128.5 386.9,130.4C389.2,132.3 391.6,134.1 394,135.7C396.5,137.4 398.9,138.8 401.4,140.2C403.9,141.6 406.5,142.8 409.1,144C411.6,145.1 414.2,146.1 416.9,147C419.5,147.8 422.1,148.6 424.8,149.2C427.5,149.8 430.1,150.3 432.8,150.7C435.5,151.1 438.2,151.3 440.9,151.4C443.6,151.5 446.4,151.4 449,151.2C451.7,151 454.4,150.7 457.1,150.2C459.7,149.7 462.3,149 464.9,148.2C467.5,147.4 470,146.4 472.5,145.3C474.9,144.3 477.3,143 479.6,141.6C481.9,140.2 484.1,138.7 486.2,137.1C488.4,135.5 490.4,133.7 492.3,131.8C494.2,130 496.1,128 497.8,126C499.6,124 501.2,121.9 502.8,119.7C504.4,117.5 505.8,115.3 507.3,113C508.8,110.7 510.1,108.3 511.6,105.9C513,103.5 514.3,101 515.8,98.5C517.2,95.9 518.7,93.3 520.3,90.5C521.8,87.7 524.4,84.4 525.3,81.7C526.1,79 525.3,75.3 525.3,74Z" fill="#1058f8"/>
<path d="M368.1,74C368.1,75.3 368,78.9 368.1,81.7C368.2,84.5 368.2,87.7 368.8,90.6C369.3,93.5 370.2,96.4 371.4,99.2C372.5,101.9 373.9,104.5 375.5,107C377,109.5 378.9,111.8 380.8,114C382.7,116.1 384.8,118.1 386.9,119.9C389,121.7 391.3,123.4 393.6,124.9C395.8,126.4 398.2,127.7 400.5,128.9C402.8,130.1 405.2,131.1 407.5,132C409.9,132.9 412.3,133.7 414.6,134.4C416.9,135 419.2,135.6 421.5,136.1C423.8,136.5 426.1,136.9 428.4,137.2C430.6,137.5 432.9,137.7 435.1,137.8C437.3,137.9 439.5,138 441.7,137.9C443.9,137.9 446.1,137.8 448.3,137.6C450.4,137.4 452.6,137.1 454.7,136.8C456.8,136.4 459,136 461.1,135.4C463.2,134.9 465.3,134.3 467.4,133.6C469.5,132.9 471.5,132.1 473.6,131.2C475.6,130.2 477.6,129.2 479.6,128.1C481.5,127 483.5,125.8 485.4,124.5C487.3,123.2 489.1,121.7 490.9,120.2C492.7,118.7 494.4,117.1 496.1,115.3C497.8,113.6 499.4,111.8 501,109.8C502.6,107.9 504.1,105.9 505.5,103.7C507,101.6 508.3,99.4 509.7,97C511,94.7 512.3,92.3 513.5,89.7C514.7,87.2 516.5,84.3 517,81.7C517.6,79.1 517,75.3 517,74Z" fill="#12a6f8"/>
<path d="M375.5,74C375.5,75.3 375.4,79.1 375.5,81.7C375.5,84.3 375.3,87.2 375.7,89.8C376.2,92.4 377,95.1 378.1,97.6C379.1,100 380.5,102.4 382,104.6C383.5,106.8 385.2,108.9 387.1,110.8C388.9,112.7 390.9,114.4 392.9,116C394.9,117.5 397.1,118.9 399.2,120.1C401.3,121.4 403.5,122.4 405.7,123.4C407.8,124.3 410,125.1 412.1,125.8C414.3,126.6 416.4,127.1 418.5,127.7C420.6,128.2 422.6,128.6 424.6,128.9C426.7,129.3 428.7,129.5 430.6,129.7C432.6,129.9 434.5,130.1 436.5,130.2C438.4,130.3 440.3,130.3 442.2,130.3C444.1,130.3 445.9,130.2 447.8,130.1C449.7,129.9 451.6,129.7 453.4,129.5C455.3,129.2 457.1,128.9 459,128.5C460.9,128.1 462.7,127.6 464.5,127C466.4,126.4 468.2,125.8 470,125C471.8,124.3 473.6,123.5 475.4,122.5C477.2,121.6 478.9,120.6 480.6,119.4C482.3,118.3 484,117.1 485.6,115.8C487.2,114.4 488.8,113 490.3,111.5C491.8,110 493.3,108.4 494.7,106.7C496.2,105 497.6,103.2 498.9,101.3C500.3,99.4 501.6,97.5 502.9,95.4C504.1,93.3 505.4,91.2 506.6,88.9C507.9,86.6 509.7,84.2 510.3,81.7C510.9,79.2 510.3,75.3 510.3,74Z" fill="#12eee6"/>
<path d="M382.7,74C382.7,75.3 382.7,79.2 382.7,81.7C382.6,84.2 382,86.6 382.2,89C382.4,91.4 383.1,93.9 384.1,96.1C385,98.4 386.3,100.6 387.7,102.6C389.1,104.6 390.8,106.4 392.5,108.1C394.3,109.7 396.2,111.2 398.2,112.5C400.1,113.8 402.2,114.9 404.2,115.9C406.2,116.9 408.3,117.7 410.3,118.5C412.3,119.2 414.4,119.7 416.3,120.2C418.3,120.7 420.2,121 422.1,121.4C424,121.7 425.8,121.9 427.6,122.1C429.4,122.3 431.1,122.4 432.8,122.5C434.5,122.6 436.1,122.6 437.8,122.6C439.4,122.7 441,122.7 442.6,122.6C444.2,122.6 445.8,122.5 447.4,122.4C449,122.3 450.5,122.2 452.1,122C453.7,121.8 455.3,121.6 456.9,121.3C458.4,121 460,120.7 461.6,120.3C463.2,119.8 464.8,119.4 466.4,118.8C468,118.2 469.6,117.6 471.1,116.8C472.7,116.1 474.3,115.2 475.8,114.3C477.3,113.4 478.8,112.4 480.2,111.3C481.7,110.1 483.1,108.9 484.4,107.6C485.8,106.3 487.1,105 488.4,103.5C489.7,102 490.9,100.5 492.1,98.8C493.3,97.2 494.4,95.5 495.5,93.7C496.6,91.9 497.7,90 498.8,88C499.9,86 501.5,84 502,81.7C502.6,79.4 502,75.3 502,74Z" fill="#12e85e"/>
<path d="M389,74C389,75.3 389,79.3 389,81.7C389,84.1 388.7,86.1 389.1,88.2C389.4,90.4 390.2,92.5 391.2,94.5C392.1,96.4 393.4,98.3 394.8,100C396.2,101.7 397.8,103.2 399.5,104.6C401.1,106 402.9,107.2 404.7,108.2C406.5,109.3 408.3,110.2 410.1,110.9C412,111.7 413.8,112.3 415.6,112.9C417.4,113.4 419.1,113.8 420.8,114.2C422.5,114.5 424.2,114.8 425.8,115C427.4,115.2 428.9,115.3 430.5,115.4C432,115.5 433.4,115.6 434.8,115.7C436.3,115.7 437.6,115.7 439,115.8C440.4,115.8 441.7,115.8 443,115.7C444.3,115.7 445.7,115.7 447,115.6C448.3,115.5 449.6,115.4 450.9,115.2C452.2,115.1 453.6,114.9 454.9,114.7C456.2,114.4 457.5,114.2 458.9,113.8C460.2,113.5 461.5,113.1 462.8,112.6C464.2,112.1 465.5,111.6 466.8,111C468.1,110.4 469.4,109.7 470.7,108.9C471.9,108.1 473.2,107.3 474.4,106.4C475.6,105.5 476.8,104.5 478,103.4C479.2,102.4 480.3,101.2 481.5,100C482.6,98.8 483.7,97.6 484.9,96.2C486,94.9 487.1,93.5 488.2,91.9C489.4,90.4 490.5,88.9 491.7,87.2C492.9,85.5 494.9,83.9 495.5,81.7C496.1,79.5 495.5,75.3 495.5,74Z" fill="#a8f812"/>
<path d="M396.4,74C396.4,75.3 396.3,79.5 396.4,81.7C396.4,83.9 396.3,85.5 396.7,87.3C397.1,89.2 397.9,91 398.9,92.6C399.8,94.3 401.1,95.8 402.4,97.2C403.7,98.6 405.3,99.8 406.8,100.9C408.4,101.9 410,102.9 411.7,103.6C413.3,104.4 415,105 416.6,105.5C418.2,106.1 419.8,106.4 421.4,106.7C422.9,107 424.4,107.2 425.9,107.4C427.3,107.6 428.7,107.6 430,107.7C431.3,107.8 432.6,107.8 433.8,107.8C435,107.8 436.1,107.8 437.2,107.8C438.3,107.7 439.4,107.7 440.4,107.7C441.5,107.7 442.5,107.7 443.5,107.7C444.5,107.6 445.5,107.6 446.5,107.6C447.5,107.5 448.5,107.5 449.5,107.4C450.6,107.4 451.6,107.3 452.6,107.1C453.7,107 454.7,106.8 455.8,106.6C456.8,106.4 457.9,106.2 458.9,105.8C460,105.5 461.1,105.1 462.1,104.7C463.2,104.3 464.2,103.8 465.3,103.2C466.3,102.6 467.4,102 468.4,101.3C469.4,100.6 470.4,99.9 471.4,99.1C472.4,98.3 473.4,97.4 474.4,96.5C475.4,95.5 476.4,94.5 477.4,93.5C478.4,92.4 479.5,91.3 480.6,90.1C481.7,88.9 482.8,87.7 484,86.3C485.3,84.9 487.3,83.7 488,81.7C488.7,79.7 488,75.3 488,74Z" fill="#fdee10"/>
<path d="M402.7,74C402.7,75.3 402.4,79.6 402.7,81.7C403,83.8 403.6,85 404.4,86.4C405.1,87.9 406.2,89.4 407.3,90.6C408.4,91.9 409.7,93.1 411,94.1C412.3,95.1 413.7,96 415.1,96.7C416.5,97.5 417.9,98.1 419.3,98.6C420.7,99.1 422.1,99.5 423.5,99.8C424.8,100.1 426.1,100.3 427.3,100.4C428.6,100.6 429.8,100.6 430.9,100.7C432,100.7 433,100.7 434,100.7C435,100.7 436,100.6 436.8,100.6C437.7,100.6 438.6,100.5 439.4,100.5C440.2,100.5 440.9,100.4 441.7,100.4C442.5,100.4 443.2,100.4 443.9,100.4C444.6,100.4 445.4,100.4 446.1,100.3C446.8,100.3 447.5,100.3 448.3,100.3C449,100.3 449.8,100.2 450.5,100.2C451.3,100.1 452.1,100 452.9,99.9C453.6,99.8 454.4,99.6 455.2,99.4C456,99.2 456.9,99 457.7,98.7C458.5,98.4 459.3,98.1 460.1,97.7C461,97.4 461.8,96.9 462.6,96.5C463.4,96 464.2,95.5 465.1,94.9C465.9,94.3 466.7,93.7 467.6,93C468.5,92.4 469.3,91.7 470.2,90.9C471.1,90.1 472,89.3 473,88.3C474,87.4 475.1,86.5 476.2,85.3C477.3,84.2 479.2,83.6 479.8,81.7C480.4,79.8 479.8,75.3 479.8,74Z" fill="#fca60e"/>
<path d="M410,74C410,75.3 409.3,79.8 410,81.7C410.6,83.6 412.6,84.3 413.9,85.3C415.3,86.4 416.7,87.3 418,88.1C419.4,88.9 420.8,89.5 422.1,90C423.4,90.6 424.8,90.9 426,91.2C427.2,91.6 428.4,91.7 429.5,91.9C430.6,92 431.7,92.1 432.6,92.1C433.6,92.1 434.5,92.1 435.3,92C436.1,92 436.8,91.9 437.5,91.8C438.2,91.7 438.8,91.6 439.4,91.5C439.9,91.4 440.4,91.3 440.9,91.2C441.4,91.2 441.8,91.1 442.2,91.1C442.6,91 443,91 443.4,91C443.7,91 444.1,91 444.5,91.1C444.8,91.1 445.2,91.2 445.6,91.2C445.9,91.2 446.3,91.3 446.7,91.4C447.1,91.4 447.5,91.5 447.9,91.5C448.4,91.6 448.8,91.6 449.3,91.6C449.7,91.6 450.2,91.6 450.7,91.6C451.2,91.6 451.7,91.6 452.3,91.5C452.8,91.4 453.4,91.3 454,91.2C454.5,91.1 455.1,90.9 455.8,90.7C456.4,90.5 457,90.3 457.7,90.1C458.4,89.8 459.1,89.5 459.9,89.2C460.6,88.8 461.4,88.4 462.3,88C463.1,87.5 464,87 465,86.4C466,85.8 467,85.2 468.1,84.4C469.3,83.6 471.2,83.4 471.8,81.7C472.4,80 471.8,75.3 471.8,74Z" fill="#fd640a"/>
<path d="M417.1,74C417.1,75.3 416.3,80 417.1,81.7C417.9,83.4 420.4,83.7 422.1,84.4C423.7,85.1 425.3,85.6 426.8,86C428.4,86.4 429.8,86.6 431.2,86.7C432.6,86.8 433.9,86.8 435.1,86.7C436.4,86.5 437.5,86.3 438.5,86C439.5,85.7 440.4,85.3 441.2,84.9C442,84.4 442.7,83.9 443.3,83.5C443.9,83 444.4,82.4 444.8,81.9C445.2,81.4 445.5,80.9 445.8,80.4C446,79.9 446.1,79.4 446.2,79C446.2,78.6 446.2,78.2 446.2,77.8C446.1,77.5 446,77.2 445.8,77C445.7,76.7 445.5,76.6 445.3,76.5C445.1,76.4 444.9,76.3 444.7,76.3C444.5,76.4 444.3,76.5 444.1,76.6C443.9,76.8 443.8,77 443.7,77.2C443.6,77.5 443.5,77.8 443.5,78.1C443.5,78.5 443.5,78.9 443.6,79.3C443.7,79.7 443.9,80.1 444.2,80.6C444.4,81 444.8,81.5 445.2,81.9C445.6,82.3 446.1,82.7 446.7,83.1C447.2,83.5 447.9,83.8 448.6,84.1C449.4,84.4 450.2,84.6 451.1,84.8C452,84.9 452.9,85 453.9,84.9C454.9,84.9 456,84.8 457.1,84.6C458.2,84.3 459.3,84 460.5,83.5C461.6,83 463.4,83.3 464,81.7C464.6,80.1 464,75.3 464,74Z" fill="#f01012"/>
<path d="M430.4,85v27.6M444.6,85v27.6M432.4,86v26M442.6,86v26M432.4,91.8h10.2M433.5,105.7h8M446.2,114.6v16.8h5.3v-16.8" fill="none" stroke="#5a3a20" stroke-width="0.5" stroke-opacity="0.5"/>
</g>
<rect x="298.2" y="8.2" width="6" height="14.2" fill="#f01012"/>
<rect x="298.2" y="22.1" width="6" height="14.2" fill="#fd640a"/>
<rect x="298.2" y="36.1" width="6" height="14.2" fill="#fca60e"/>
<rect x="298.2" y="50" width="6" height="14.2" fill="#fdee10"/>
<rect x="298.2" y="64" width="6" height="14.2" fill="#a8f812"/>
<rect x="298.2" y="78" width="6" height="14.2" fill="#12e85e"/>
<rect x="298.2" y="91.9" width="6" height="14.2" fill="#12eee6"/>
<rect x="298.2" y="105.8" width="6" height="14.2" fill="#12a6f8"/>
<rect x="298.2" y="119.8" width="6" height="14.2" fill="#1058f8"/>
<rect x="298.2" y="133.8" width="6" height="14.2" fill="#080eee"/>
<text transform="translate(325.6,12.1) scale(1.1,1)" class="lab" font-size="7.5" text-anchor="middle">3.35e-02</text>
<text transform="translate(325.6,26.2) scale(1.1,1)" class="lab" font-size="7.5" text-anchor="middle">3.01e-02</text>
<text transform="translate(325.6,40.2) scale(1.1,1)" class="lab" font-size="7.5" text-anchor="middle">2.67e-02</text>
<text transform="translate(325.6,54.3) scale(1.1,1)" class="lab" font-size="7.5" text-anchor="middle">2.33e-02</text>
<text transform="translate(325.6,68.4) scale(1.1,1)" class="lab" font-size="7.5" text-anchor="middle">1.99e-02</text>
<text transform="translate(325.6,82.4) scale(1.1,1)" class="lab" font-size="7.5" text-anchor="middle">1.65e-02</text>
<text transform="translate(325.6,96.5) scale(1.1,1)" class="lab" font-size="7.5" text-anchor="middle">1.30e-02</text>
<text transform="translate(325.6,110.6) scale(1.1,1)" class="lab" font-size="7.5" text-anchor="middle">9.63e-03</text>
<text transform="translate(325.6,124.7) scale(1.1,1)" class="lab" font-size="7.5" text-anchor="middle">6.23e-03</text>
<text transform="translate(325.6,138.7) scale(1.1,1)" class="lab" font-size="7.5" text-anchor="middle">2.82e-03</text>
<text transform="translate(325.6,152.8) scale(1.1,1)" class="lab" font-size="7.5" text-anchor="middle">-5.90e-04</text>
<g clip-path="url(#cuc)">
<rect x="180" y="180" width="215" height="85" fill="#12eee6"/>
<path d="M180,180C180,193.7 166.3,248.3 180,262C193.7,275.7 246.7,262.6 262,262C277.3,261.4 269.5,259.4 272,258.5C274.5,257.6 275,257.3 277,256.5C279,255.7 281.8,255.2 284,253.9C286.2,252.6 288.9,250.4 290.5,248.4C292.1,246.4 292.9,244.4 293.8,241.8C294.7,239.2 295.3,236.3 296,233C296.7,229.7 297.5,225 298,222C298.5,219 298.6,217.4 299,215C299.4,212.6 299.8,210.2 300.5,207.7C301.2,205.2 302.8,204.6 303.5,200C304.2,195.4 304.3,183.3 304.5,180Z" fill="#12e85e"/>
<path d="M197,182C197,183.1 196.4,186.5 197,188.7C197.6,190.9 198.6,192.1 200.5,195C202.4,197.9 205.3,202.1 208.5,206C211.7,209.9 215.8,215 219.4,218.7C223,222.4 226.9,225.6 230.3,228.2C233.7,230.8 236.6,232.4 240,234C243.4,235.6 247.3,237.1 251,238C254.7,238.9 258.7,239.4 262,239.2C265.3,238.9 268.2,237.7 270.8,236.5C273.4,235.3 275.5,233.7 277.4,232C279.3,230.3 280.5,228.2 282,226.4C283.5,224.6 285.3,223.1 286.5,221C287.7,218.9 288.4,216.7 289,214C289.6,211.3 289.9,208 290.3,205C290.7,202 291.2,198.7 291.5,196C291.8,193.3 291.9,191 292,188.7C292.1,186.4 292,183.1 292,182Z" fill="#a8f812"/>
<path d="M205.8,182C205.8,183.1 205.1,186.2 205.8,188.7C206.5,191.2 207.9,193.8 209.8,197C211.8,200.2 214.4,204.2 217.5,207.8C220.6,211.4 224.8,215.8 228.5,218.7C232.2,221.6 236.2,223.7 240,225.3C243.8,226.9 247.7,227.7 251,228.1C254.3,228.5 257.1,228.4 260,227.6C262.9,226.8 265.8,225 268.4,223.2C271,221.4 273.6,219 275.5,216.8C277.4,214.6 278.8,212 280,210C281.2,208 281.9,206.5 283,205C284.1,203.5 285.4,202.3 286.5,201C287.6,199.7 288.7,199.1 289.5,197C290.3,194.9 291.2,191.2 291.5,188.7C291.8,186.2 291.5,183.1 291.5,182Z" fill="#fdee10"/>
<path d="M214.7,182C214.7,183.1 214,186.2 214.7,188.7C215.4,191.2 217,193.9 219,197C221,200.1 223.5,204 226.6,207C229.7,210 233.8,213.2 237.5,215C241.2,216.8 245.4,217.4 249,217.6C252.6,217.8 255.9,217.4 259,216.4C262.1,215.4 265,213.3 267.5,211.5C270,209.7 271.7,207.5 273.8,205.5C275.9,203.5 278.1,201.5 280,199.6C281.9,197.7 283.5,195.8 285,194C286.5,192.2 288.3,190.7 289,188.7C289.7,186.7 289,183.1 289,182Z" fill="#fca60e"/>
<path d="M222,182C222,183.1 221,185.9 222,188.7C223,191.5 225.4,195.9 228,198.7C230.6,201.5 234,203.9 237.5,205.5C241,207.1 245.6,208 249,208.3C252.4,208.6 255.1,208.3 258.2,207.4C261.2,206.5 264.6,204.6 267.3,202.8C270,201.1 272.4,198.8 274.5,196.9C276.6,195 278.7,192.9 280,191.5C281.3,190.1 282.1,190.3 282.5,188.7C282.9,187.1 282.5,183.1 282.5,182Z" fill="#fd640a"/>
<path d="M231,182C231,183.1 230.2,186.7 231,188.7C231.8,190.7 234.2,192.8 235.7,194.2C237.2,195.6 237.8,196.2 240,196.9C242.2,197.7 246,198.5 249,198.7C252,198.8 255.4,198.6 258.2,197.8C260.9,197.1 263.2,195.6 265.5,194.2C267.8,192.8 270.7,190.1 271.8,189.2C272.9,188.3 272.2,189.9 272.3,188.7C272.4,187.5 272.3,183.1 272.3,182Z" fill="#f01012"/>
<path d="M306.4,182C306.4,183.1 306.1,184.7 306.4,188.7C306.7,192.7 307.5,201.3 308,206C308.5,210.7 309,213.1 309.6,216.8C310.2,220.5 310.4,224.4 311.5,228C312.6,231.6 314.4,235.7 316.5,238.3C318.6,240.9 321.4,242.8 324.2,243.8C326.9,244.8 329.7,245.2 333,244.5C336.3,243.8 340.3,241.7 344,239.8C347.7,237.9 351.8,235.2 355,233C358.2,230.8 360.2,229.2 363,226.5C365.8,223.8 369.2,220.3 372,217C374.8,213.7 377.8,209.8 380,206.5C382.2,203.2 384,200 385.5,197C387,194 388.2,191.2 388.8,188.7C389.4,186.2 388.8,183.1 388.8,182Z" fill="#12a6f8"/>
<path d="M312.7,182C312.7,183.1 312.4,185 312.7,188.7C313,192.4 313.6,199.9 314.5,204C315.4,208.1 316.5,210.3 318.2,213.2C319.9,216.1 321.9,219.2 324.5,221.4C327.1,223.6 330.6,225.5 333.6,226.3C336.6,227.2 339.7,227.2 342.7,226.5C345.7,225.8 348.8,224.1 351.8,222.3C354.9,220.6 358.2,218.4 361,216C363.8,213.6 366.5,210.7 368.5,207.7C370.5,204.7 371.8,201.2 373,198C374.2,194.8 375.1,191.4 375.5,188.7C375.9,186 375.5,183.1 375.5,182Z" fill="#1058f8"/>
<path d="M319,182C319,183.1 318.4,186.5 319,188.7C319.6,190.9 321.5,192.7 322.7,195C323.9,197.3 324.9,200.1 326.4,202.3C327.9,204.5 329.7,206.7 331.8,208C333.9,209.3 336.6,210.1 339,210.3C341.4,210.6 344,210.3 346.4,209.5C348.8,208.7 351.5,207.1 353.6,205.5C355.7,203.9 357.6,201.9 359,200C360.4,198.1 361.4,195.9 362.2,194C363,192.1 363.4,190.7 363.6,188.7C363.8,186.7 363.6,183.1 363.6,182Z" fill="#080eee"/>
<rect x="281.3" y="188" width="5.8" height="8" fill="#fca60e"/>
<rect x="281.3" y="195.5" width="5.8" height="11" fill="#fdee10"/>
<rect x="281.3" y="206" width="5.8" height="15.6" fill="#c8f812"/>
<path d="M281.3,188.8V221.5h5.8V188.8M281.3,221.5V232M287.1,221.5V232" fill="none" stroke="#7a7a20" stroke-width="0.6" stroke-opacity="0.7"/>
<rect x="283.2" y="223.6" width="1.9" height="3.7" fill="#e8f4e0"/>
<rect x="291.4" y="188" width="1.9" height="20.6" fill="#25c548"/>
<rect x="302.3" y="188" width="1.9" height="20.6" fill="#25c548"/>
<rect x="291.4" y="198.3" width="12" height="1.9" fill="#25c548"/>
</g>
<g clip-path="url(#cdc)">
<rect x="180" y="258" width="215" height="85" fill="#12eee6"/>
<path d="M206.4,258C206.4,259.1 205.1,262.3 206.4,264.7C207.7,267.1 211.2,269.9 214,272.5C216.8,275.1 219.9,278.2 223.2,280.6C226.5,283 230.4,285.5 234,287C237.6,288.5 241.3,289.5 245,289.8C248.7,290.1 252.7,289.5 256,288.6C259.3,287.7 262.5,286.5 265,284.6C267.5,282.8 269.4,279.9 271,277.5C272.6,275.1 273.5,272.1 274.5,270C275.5,267.9 276.6,266.7 277,264.7C277.4,262.7 277,259.1 277,258Z" fill="#12a6f8"/>
<path d="M225.9,258C225.9,259.1 224.8,262.7 225.9,264.7C227,266.7 230,268.8 232.3,270.2C234.6,271.6 236.8,272.4 239.5,273C242.2,273.6 245.6,274.1 248.6,273.8C251.6,273.5 255,272.2 257.7,271C260.4,269.8 263.2,267.6 265,266.5C266.8,265.4 268,266.1 268.6,264.7C269.2,263.3 268.6,259.1 268.6,258Z" fill="#1058f8"/>
<path d="M211,288.6C211.7,288 213.7,288.3 215.5,288.8C217.3,289.3 218.9,289.6 221.8,291.5C224.7,293.4 229.1,297.6 232.8,300.3C236.5,303 240.8,305.7 243.8,307.8C246.8,309.9 248.3,310.9 250.6,312.8C252.9,314.8 256,317.1 257.8,319.5C259.6,321.9 260.6,324.6 261.5,327C262.4,329.4 264.2,332.8 263,334C261.8,335.2 256.8,335.3 254.5,334C252.2,332.7 251.8,328.5 249.5,326C247.2,323.5 243.8,321.7 240.4,318.8C237.1,315.9 232.8,311.8 229.4,308.9C226.1,306 222.7,303.6 220.3,301.6C217.9,299.6 216.5,298.5 215,297C213.5,295.5 212,294 211.3,292.6C210.6,291.2 210.3,289.2 211,288.6Z" fill="#12e85e"/>
<path d="M274,262C273.8,264.8 273.8,268.4 273.6,273C273.4,277.6 272.7,284.2 272.7,289.3C272.7,294.4 273.1,300.4 273.6,303.8C274.2,307.2 274.9,308.2 276,310C277.1,311.8 277.8,313.1 280,314.3C282.2,315.6 285.4,317.1 289,317.5C292.6,317.9 297.8,316.9 301.5,316.4C305.2,315.9 308.2,315.3 311,314.6C313.8,313.9 315.5,313.3 318,312.4C320.5,311.5 323.2,310.5 326,309.3C328.8,308.1 331.7,306.7 334.5,305.3C337.3,303.9 340.2,302.2 343,300.8C345.8,299.4 348.3,297.9 351,296.6C353.7,295.3 356,295 359.2,292.8C362.4,290.6 366.8,286.7 370,283.6C373.2,280.6 375.9,277.7 378.6,274.5C381.3,271.3 384.1,267.4 386,264.6C387.9,261.9 408.5,259.4 390,258C371.5,256.6 294.3,255.3 275,256C255.7,256.7 274.2,259.2 274,262Z" fill="#12e85e"/>
<path d="M283,258C283,259.1 282.8,261.9 283,264.7C283.2,267.5 283.1,271.1 284,275C284.9,278.9 286,284.4 288.2,288.2C290.4,292 294,295.4 297.3,297.8C300.6,300.2 304.2,301.7 308.2,302.3C312.1,302.9 316.8,302.4 321,301.4C325.2,300.4 329.4,298.6 333.6,296.4C337.8,294.2 342.4,291 346.4,288C350.3,285 354.4,281.4 357.3,278.6C360.2,275.8 361.7,273.3 363.5,271C365.3,268.7 367.4,266.9 368.2,264.7C369,262.5 368.2,259.1 368.2,258Z" fill="#a8f812"/>
<path d="M283.2,258C283.2,259.1 283,262.7 283.2,264.7C283.4,266.7 283.7,267.6 284.5,270C285.3,272.4 286.1,276.2 288.2,279C290.3,281.8 293.7,284.8 297.3,286.9C300.9,289 305.8,290.8 310,291.4C314.2,292 318.4,291.6 322.7,290.4C326.9,289.2 331.6,286.7 335.5,284.4C339.4,282.1 343.4,279.1 346.4,276.8C349.4,274.5 351.4,272.5 353.5,270.5C355.6,268.5 358.1,266.8 359,264.7C359.9,262.6 359,259.1 359,258Z" fill="#fdee10"/>
<path d="M285.5,258C285.5,259.1 285.1,262.4 285.5,264.7C285.9,266.9 286.2,269.2 288.2,271.5C290.2,273.8 293.7,276.6 297.3,278.3C300.9,280.1 306.1,281.4 310,282C313.9,282.6 317.4,282.6 321,282C324.6,281.4 328.2,280 331.8,278.2C335.4,276.4 339.7,273.4 342.7,271.2C345.7,268.9 348.8,266.9 350,264.7C351.2,262.5 350,259.1 350,258Z" fill="#fca60e"/>
<path d="M293.6,258C293.6,259.1 292.4,262.8 293.6,264.7C294.8,266.6 298.3,268 301,269.3C303.7,270.6 307,271.9 310,272.5C313,273.1 316,273.4 319,273C322,272.6 325,271.6 328.2,270.2C331.4,268.8 336.5,266.7 338.2,264.7C339.9,262.7 338.2,259.1 338.2,258Z" fill="#fd640a"/>
<rect x="275.2" y="264" width="1.8" height="9" fill="#12a6f8"/>
<path d="M275,273V300M285.3,273V300M277,273.5v26M283.3,273.5v26M277,283.5h6.3M277,287.6h6.3M289.5,297v19M294.2,297v19" fill="none" stroke="#2a5a30" stroke-width="0.5" stroke-opacity="0.6"/>
<rect x="291.3" y="299" width="1.6" height="3.5" fill="#d8f0e0"/>
<path d="M192.3,265.8C193.2,267.7 196.1,273.4 198,277C199.9,280.6 201.3,284 204,287.7C206.7,291.4 210.6,295.9 214.2,299.4C217.8,302.9 221.8,305.6 225.8,308.6C229.8,311.6 234,314.8 238,317.5C242,320.2 246,322.8 250,325C254,327.2 260,330 262,331" fill="none" stroke="#108890" stroke-width="0.5" stroke-opacity="0.55"/>
<path d="M380,266C378.2,268.9 373.9,277.5 369.3,283.6C364.8,289.7 358.6,297.4 352.7,302.5C346.8,307.6 338.9,311.7 333.8,314.4C328.7,317.1 326.7,316.1 322,318.5C317.3,320.9 309.8,326.4 305.5,328.6C301.2,330.9 297.6,331.4 296,332" fill="none" stroke="#108890" stroke-width="0.5" stroke-opacity="0.55"/>
</g>
<path d="M187.7,264.7C188.2,266.1 189.6,270 191,272.9C192.4,275.8 194.1,278.7 196,282C197.9,285.3 200.1,289.6 202.4,292.9C204.7,296.2 206.8,299 209.6,302C212.4,305 216.1,308.4 219.5,311C222.9,313.6 226.7,315.4 230.3,317.8C233.9,320.2 238.2,323.6 241,325.5C243.8,327.4 244.9,327.8 247,329C249.1,330.2 252.5,332 253.6,332.6L308.4,332.6C310,331.8 315.6,329.3 318.2,328C320.8,326.7 321.4,326 324,324.7C326.6,323.4 331.6,321.5 334,320.2C336.4,318.9 337,317.7 338.3,316.9C339.6,316.1 340.4,316.4 342,315.6C343.6,314.8 345.4,313.8 348,312C350.6,310.2 354.4,307.4 357.3,304.7C360.2,302 362.6,298.8 365.3,295.6C368,292.4 370.9,289.1 373.7,285.6C376.5,282.1 379.5,278.2 382.2,274.7C384.9,271.2 388.7,266.4 390,264.7L283,264.7 L283,273 L277,273 L277,264.7 Z" fill="none" stroke="#20b8b0" stroke-width="0.5"/>
<rect x="142.2" y="192.7" width="5.6" height="14.3" fill="#f01012"/>
<rect x="142.2" y="206.7" width="5.6" height="14.3" fill="#fd640a"/>
<rect x="142.2" y="220.6" width="5.6" height="14.3" fill="#fca60e"/>
<rect x="142.2" y="234.6" width="5.6" height="14.3" fill="#fdee10"/>
<rect x="142.2" y="248.5" width="5.6" height="14.3" fill="#a8f812"/>
<rect x="142.2" y="262.5" width="5.6" height="14.3" fill="#12e85e"/>
<rect x="142.2" y="276.5" width="5.6" height="14.3" fill="#12eee6"/>
<rect x="142.2" y="290.4" width="5.6" height="14.3" fill="#12a6f8"/>
<rect x="142.2" y="304.4" width="5.6" height="14.3" fill="#1058f8"/>
<rect x="142.2" y="318.3" width="5.6" height="14.3" fill="#080eee"/>
<text transform="translate(165.9,192.5) scale(1.1,1)" class="lab" font-size="7.5" text-anchor="middle">1.09e-02</text>
<text transform="translate(165.9,206.5) scale(1.1,1)" class="lab" font-size="7.5" text-anchor="middle">9.15e-03</text>
<text transform="translate(165.9,220.6) scale(1.1,1)" class="lab" font-size="7.5" text-anchor="middle">7.45e-03</text>
<text transform="translate(165.9,234.6) scale(1.1,1)" class="lab" font-size="7.5" text-anchor="middle">5.75e-03</text>
<text transform="translate(165.9,248.7) scale(1.1,1)" class="lab" font-size="7.5" text-anchor="middle">4.05e-03</text>
<text transform="translate(165.9,262.7) scale(1.1,1)" class="lab" font-size="7.5" text-anchor="middle">2.35e-03</text>
<text transform="translate(165.9,276.7) scale(1.1,1)" class="lab" font-size="7.5" text-anchor="middle">6.53e-04</text>
<text transform="translate(165.9,290.8) scale(1.1,1)" class="lab" font-size="7.5" text-anchor="middle">-1.05e-03</text>
<text transform="translate(165.9,304.8) scale(1.1,1)" class="lab" font-size="7.5" text-anchor="middle">-2.75e-03</text>
<text transform="translate(165.9,318.9) scale(1.1,1)" class="lab" font-size="7.5" text-anchor="middle">-4.45e-03</text>
<text transform="translate(165.9,332.9) scale(1.1,1)" class="lab" font-size="7.5" text-anchor="middle">-6.15e-03</text>
</g>
<g filter="url(#soft)">
<text transform="translate(64.3,67) scale(1.1,1)" class="lbl" font-size="8.7" text-anchor="start">Upstream</text>
<text transform="translate(57.4,148.8) scale(1.1,1)" class="lbl" font-size="8.6" text-anchor="start">Downstream</text>
<text transform="translate(356,67) scale(1.1,1)" class="lbl" font-size="8.7" text-anchor="start">Upstream</text>
<text transform="translate(346,148.6) scale(1.1,1)" class="lbl" font-size="8.6" text-anchor="start">Downstream</text>
<text transform="translate(194,254.6) scale(1.1,1)" class="lbl" font-size="8.7" text-anchor="start">Upstream</text>
<text transform="translate(186.6,331.6) scale(1.1,1)" class="lbl" font-size="8.6" text-anchor="start">Downstream</text>
<text transform="translate(98.4,171.1) scale(1.1,1)" class="cap" font-size="9.9" text-anchor="start" dx="-2.1 1.2 2.3 -1.9"><tspan class="b">（a）</tspan>Vertical displacement</text>
<text transform="translate(359.8,171.4) scale(1.1,1)" class="cap" font-size="9.7" text-anchor="start" dx="-2.1 1.2 2.3 -1.9"><tspan class="b">（b）</tspan>Displacement along river</text>
<text transform="translate(209.7,353.4) scale(1.1,1)" class="cap" font-size="9.9" text-anchor="start" dx="-2.1 1.2 2.3 -1.9"><tspan class="b">（c）</tspan>Transverse displacement</text>
</g>
</svg>
</body>
</html>
